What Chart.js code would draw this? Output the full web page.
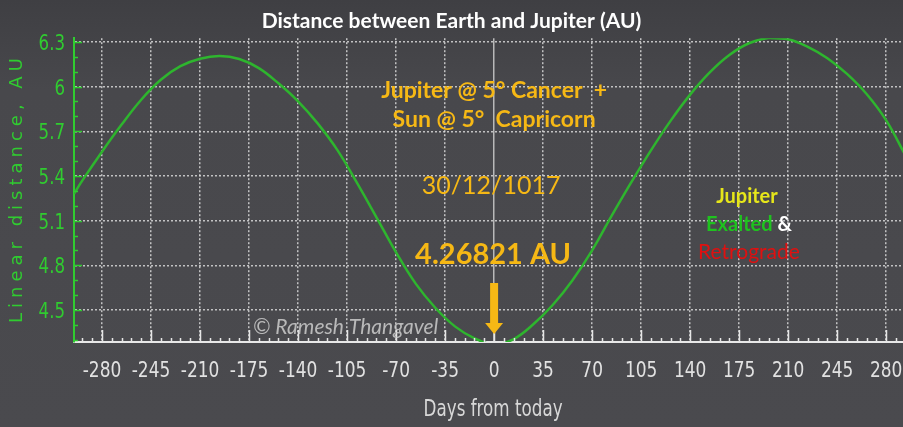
<!DOCTYPE html>
<html>
<head>
<meta charset="utf-8">
<script src="https://cdn.jsdelivr.net/npm/chart.js@4.4.0/dist/chart.umd.min.js"></script>
<style>
    html, body { margin: 0; padding: 0; }
    body { width: 903px; height: 427px; background: linear-gradient(#3f3f43 0px, #48484c 90px, #4a4a4e 427px); }
    #wrap { position: relative; width: 903px; height: 427px; }
</style>
</head>
<body>
<div id="wrap"><canvas id="distance-chart"></canvas></div>
<script>
// days from today (30/12/1017) and Earth-Jupiter distance in AU
const days = [-300, -294, -280, -266, -252, -238, -224, -210, -196, -182, -168, -154, -140, -126, -112, -98, -84, -70, -56, -42, -28, -14,
    0, 14, 28, 42, 56, 70, 84, 98, 112, 126, 140, 154, 168, 182, 196, 210, 224, 238, 252, 266, 280, 294];
const distanceAU = [5.28, 5.37, 5.563, 5.745, 5.912, 6.046, 6.137, 6.187, 6.205, 6.185, 6.124, 6.022, 5.901, 5.753, 5.575, 5.355, 5.122, 4.887, 4.677, 4.515, 4.39, 4.31,
    4.268, 4.305, 4.404, 4.535, 4.70, 4.90, 5.133, 5.358, 5.572, 5.77, 5.946, 6.095, 6.212, 6.291, 6.326, 6.318, 6.267, 6.191, 6.085, 5.95, 5.773, 5.533];

const xTickValues = [-280, -245, -210, -175, -140, -105, -70, -35, 0, 35, 70, 105, 140, 175, 210, 245, 280];
const yTickValues = [4.5, 4.8, 5.1, 5.4, 5.7, 6, 6.3];

const GREEN_AXIS = '#30cc30';
const CONDENSED = '"DejaVu Sans Condensed", "DejaVu Sans", sans-serif';

// text squeezed horizontally, the axis font in the picture is a tall narrow one
function narrowText(ctx, text, x, y, sx) {
    ctx.save();
    ctx.translate(x, y);
    ctx.scale(sx, 1);
    ctx.fillText(text, 0, 0);
    ctx.restore();
}

const extras = {
    id: 'extras',
    afterDatasetsDraw(chart) {
        const ctx = chart.ctx;
        const area = chart.chartArea;
        const xs = chart.scales.x;
        const ys = chart.scales.y;
        ctx.save();

        // inward tick marks on the x axis (minor every 7 days, major every 35)
        ctx.strokeStyle = '#e6e6e6';
        ctx.lineWidth = 1.5;
        ctx.beginPath();
        for (let d = Math.ceil(xs.min / 7) * 7; d <= xs.max; d += 7) {
            const px = Math.round(xs.getPixelForValue(d)) + 0.5;
            const len = d % 35 === 0 ? 12 : 4;
            ctx.moveTo(px, area.bottom);
            ctx.lineTo(px, area.bottom - len);
        }
        ctx.stroke();

        // inward tick marks on the y axis (minor every 0.1, major every 0.3)
        ctx.strokeStyle = GREEN_AXIS;
        ctx.beginPath();
        for (let k = Math.ceil(ys.min * 10); k <= Math.floor(ys.max * 10); k++) {
            const py = Math.round(ys.getPixelForValue(k / 10)) + 0.5;
            const len = k % 3 === 0 ? 8 : 4;
            ctx.moveTo(area.left, py);
            ctx.lineTo(area.left + len, py);
        }
        ctx.stroke();

        // tick labels
        ctx.textBaseline = 'alphabetic';
        ctx.textAlign = 'center';
        ctx.fillStyle = '#e2e2e2';
        ctx.font = '21px ' + CONDENSED;
        xTickValues.forEach(v => narrowText(ctx, String(v), xs.getPixelForValue(v), 377, 0.9));

        ctx.textAlign = 'right';
        ctx.fillStyle = GREEN_AXIS;
        yTickValues.forEach(v => narrowText(ctx, String(v), 65, ys.getPixelForValue(v) + 8, 0.88));

        // axis titles
        ctx.textAlign = 'center';
        ctx.fillStyle = '#d8d8d8';
        ctx.font = '23px ' + CONDENSED;
        narrowText(ctx, 'Days from today', xs.getPixelForValue(0) - 1, 416, 0.81);

        ctx.save();
        ctx.translate(17, (area.top + area.bottom) / 2 - 2);
        ctx.rotate(-Math.PI / 2);
        ctx.fillStyle = GREEN_AXIS;
        ctx.font = '18px "DejaVu Sans", sans-serif';
        ctx.letterSpacing = '5px';
        ctx.textAlign = 'center';
        ctx.textBaseline = 'middle';
        ctx.fillText('Linear distance, AU', 0, 0);
        ctx.restore();

        const cx = xs.getPixelForValue(0);
        const yellow = '#f6b815';
        ctx.textAlign = 'center';
        ctx.textBaseline = 'middle';

        ctx.fillStyle = yellow;
        ctx.font = 'bold 23px Lato, sans-serif';
        ctx.fillText('Jupiter @ 5\u00b0 Cancer  +', cx, 91);
        ctx.fillText('Sun @ 5\u00b0  Capricorn', cx, 120);

        ctx.font = '25px Lato, sans-serif';
        ctx.fillText('30/12/1017', cx - 3, 186);

        ctx.font = 'bold 29px Lato, sans-serif';
        ctx.fillText('4.26821 AU', cx - 1, 255);

        // arrow pointing at the minimum
        ctx.fillRect(cx - 4, area.bottom - 59, 8, 42);
        ctx.beginPath();
        ctx.moveTo(cx - 9, area.bottom - 19);
        ctx.lineTo(cx + 9, area.bottom - 19);
        ctx.lineTo(cx, area.bottom - 8);
        ctx.closePath();
        ctx.fill();

        // note on the right
        const nx = xs.getPixelForValue(182);
        ctx.font = 'bold 20px Lato, sans-serif';
        ctx.fillStyle = '#e6e61a';
        ctx.fillText('Jupiter', nx - 2, 197);

        const w1 = ctx.measureText('Exalted ').width;
        const w2 = ctx.measureText('&').width;
        ctx.textAlign = 'left';
        ctx.fillStyle = '#1fc21f';
        ctx.fillText('Exalted ', nx - (w1 + w2) / 2, 225);
        ctx.fillStyle = '#ffffff';
        ctx.fillText('&', nx - (w1 + w2) / 2 + w1, 225);

        ctx.textAlign = 'center';
        ctx.font = '21px Lato, sans-serif';
        ctx.fillStyle = '#e01010';
        ctx.fillText('Retrograde', nx, 252);

        // watermark
        ctx.font = 'italic 21px Lato, sans-serif';
        ctx.fillStyle = 'rgba(205, 205, 205, 0.85)';
        ctx.textAlign = 'left';
        ctx.fillText('\u00a9 Ramesh Thangavel', 253, 327);

        ctx.restore();
    }
};

document.addEventListener('DOMContentLoaded', function () {
    const canvas = document.getElementById('distance-chart');
    canvas.width = 903;
    canvas.height = 427;
    const ctx = canvas.getContext('2d');

    const data = {
        datasets: [{
            label: 'Distance (AU)',
            data: days.map((d, i) => ({ x: d, y: distanceAU[i] })),
            borderColor: '#2eb52e',
            borderWidth: 2.5,
            pointRadius: 0,
            tension: 0.4,
            fill: false
        }]
    };

    const gridDash = (context) => (context.tick && context.tick.value === 0 ? [] : [2, 2]);

    const options = {
        responsive: false,
        animation: false,
        layout: { padding: 0 },
        scales: {
            x: {
                type: 'linear',
                min: -300,
                max: 292,
                afterBuildTicks: (scale) => { scale.ticks = xTickValues.map(v => ({ value: v })); },
                afterFit: (scale) => {
                    scale.height = 85;
                    scale.paddingLeft = 0;
                    scale.paddingRight = 0;
                },
                ticks: { display: false },
                grid: {
                    drawTicks: false,
                    lineWidth: 1.5,
                    color: (context) => (context.tick && context.tick.value === 0 ? 'rgba(205,205,205,0.85)' : 'rgba(225,225,225,0.8)')
                },
                border: { color: '#e8e8e8', width: 2, dash: gridDash },
                title: { display: false }
            },
            y: {
                min: 4.285,
                max: 6.325,
                afterBuildTicks: (scale) => { scale.ticks = yTickValues.map(v => ({ value: v })); },
                afterFit: (scale) => {
                    scale.width = 74;
                    scale.paddingTop = 0;
                    scale.paddingBottom = 0;
                },
                ticks: { display: false },
                grid: {
                    drawTicks: false,
                    lineWidth: 1.5,
                    color: 'rgba(225,225,225,0.8)'
                },
                border: { color: GREEN_AXIS, width: 2, dash: [2, 2] }
            }
        },
        plugins: {
            legend: { display: false },
            tooltip: { enabled: false },
            title: {
                display: true,
                text: 'Distance between Earth and Jupiter (AU)',
                color: '#ffffff',
                font: { family: 'Lato, sans-serif', size: 21, weight: 'bold' },
                padding: { top: 9, bottom: 4 }
            }
        }
    };

    new Chart(ctx, {
        type: 'line',
        data: data,
        options: options,
        plugins: [extras]
    });
});
</script>
</body>
</html>
